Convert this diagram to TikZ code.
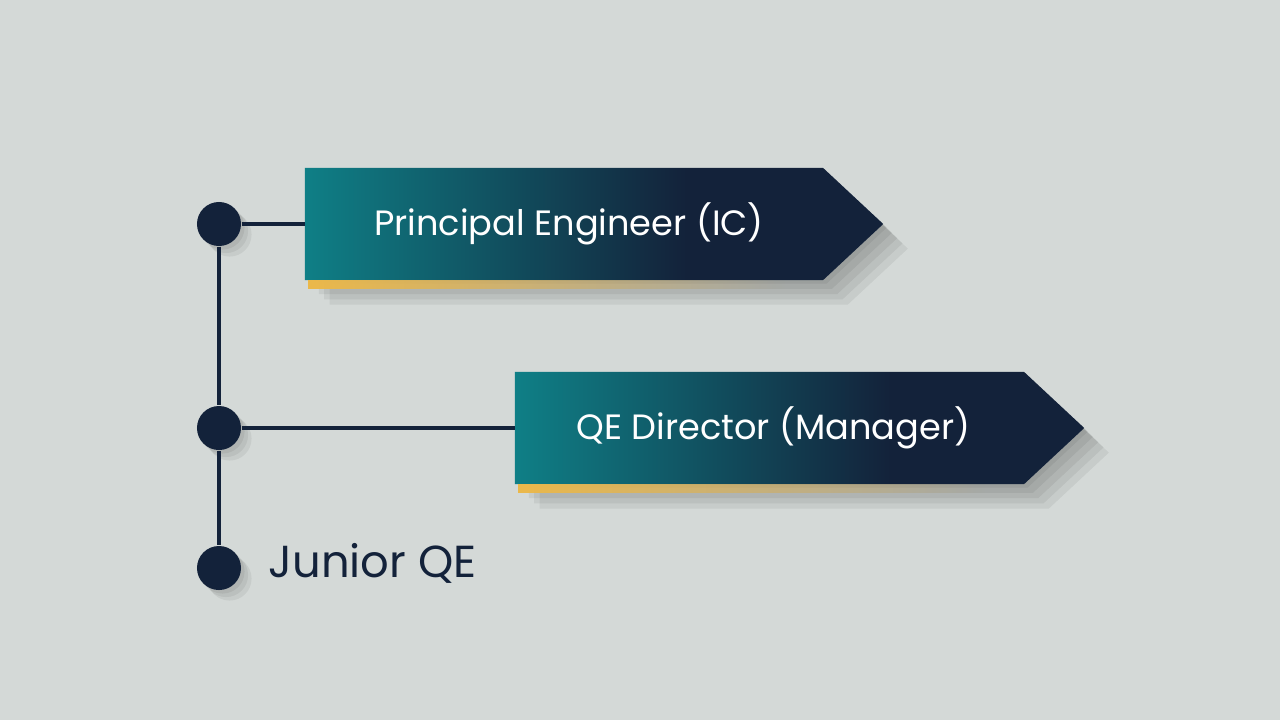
\documentclass[tikz,border=0pt]{standalone}
\usepackage{fontspec}
\setmainfont{Poppins}
\definecolor{qebg}{HTML}{D4D9D7}
\definecolor{qenavy}{HTML}{13223A}
\definecolor{qeteal}{HTML}{0F7F86}
\definecolor{qegold}{HTML}{EBB84A}
\usetikzlibrary{shapes.symbols, positioning, calc, shadows, fadings}
\pgfdeclarehorizontalshading{ladder}{100bp}{color(0bp)=(qeteal); color(25bp)=(qeteal); color(40bp)=(qeteal!55!qenavy); color(58bp)=(qenavy); color(100bp)=(qenavy)}
\newcommand{\branch}[2]
{
	\draw[spine] (#1) -- (#2)
}

\begin{document}
\begin{tikzpicture}[x=0.01cm, y=0.01cm,
softshade/.style={general shadow={shadow xshift=#1, shadow yshift=-#1, fill=black, opacity=0.06}},
dot/.style={circle, fill=qenavy, minimum size=0.44cm, inner sep=0pt,
	softshade=1pt, softshade=2pt, softshade=3pt},
spine/.style={draw=qenavy, line width=1pt},
rolebox/.style={signal, signal to=east, signal pointer angle=86,
	shading=ladder, minimum height=1.12cm, inner sep=0pt, outer sep=0pt,
	softshade=1pt, softshade=2.5pt, softshade=4pt, softshade=5.5pt, softshade=7pt},
roletext/.style={text=white, font=\fontsize{10}{12}\selectfont},
goldedge/.style={fill=qegold, path fading=east}]

\fill[qebg] (0,0) rectangle (1280,720);
\useasboundingbox (0,0) rectangle (1280,720);

\node[rolebox, minimum width=5.78cm] at (564,496) (pe){};
\node[rolebox, minimum width=5.69cm] at (769.5,292) (qd){};
\node[roletext] at ($(pe)+(5,0)$) (petxt){Principal Engineer (IC)};
\node[roletext] at ($(qd)+(4,0)$) (qdtxt){QE Director (Manager)};

\fill[goldedge] ($(pe.south west)+(3,0)$) rectangle ($(pe.south west)+(480,-9)$);
\fill[goldedge] ($(qd.south west)+(3,0)$) rectangle ($(qd.south west)+(470,-9)$);

\node[dot] at (219,496) (d1){};
\node[dot] at (219,292) (d2){};
\node[dot] at (219,152) (d3){};
\node[anchor=west, text=qenavy, inner sep=0pt, font=\fontsize{12.75}{15}\selectfont] at (268,157) (jq){Junior QE};

\branch{d1}{d2};
\branch{d2}{d3};
\branch{d1}{pe};
\branch{d2}{qd};
\end{tikzpicture}
\end{document}
